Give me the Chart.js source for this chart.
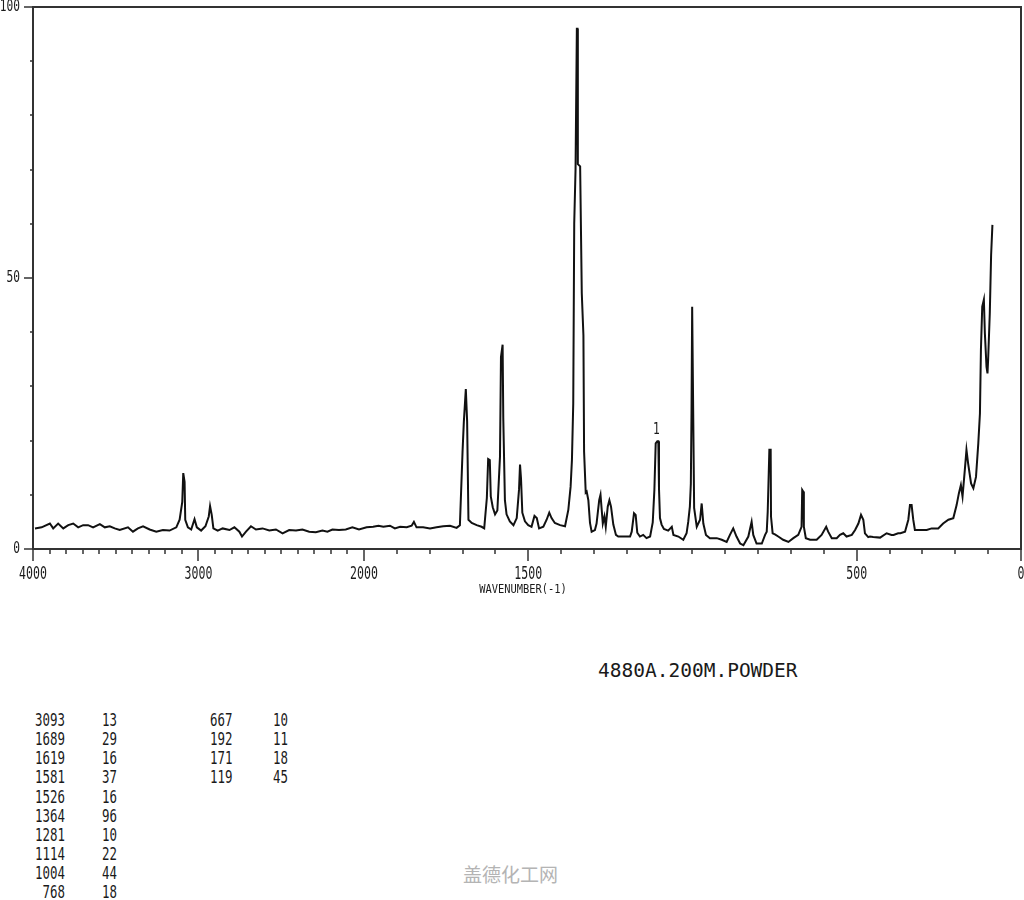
<!DOCTYPE html>
<html>
<head>
<meta charset="utf-8">
<script src="https://cdn.jsdelivr.net/npm/chart.js@4/dist/chart.umd.min.js"></script>
<style>
  html, body { margin: 0; padding: 0; background: #fff; overflow: hidden; }
  #wrap { position: relative; width: 1024px; height: 900px; }
  #spec { position: absolute; left: 0; top: 0; }
  .txt { position: absolute; font-family: "DejaVu Sans Mono", monospace; color: #1a1a1a; white-space: pre; line-height: 1; }
  #mark { position: absolute; font-family: "Noto Sans CJK SC", sans-serif; color: #b4b4b4; font-size: 19px; line-height: 1; }
</style>
</head>
<body>
<div id="wrap">
  <canvas id="spec" width="1024" height="600"></canvas>
</div>
<script>
// raman spectrum (wavenumber / relative intensity)
var wavenumbers = [
  3988, 3948, 3898, 3878, 3848, 3817, 3787, 3757, 3727, 3697, 3667, 3637, 3596, 3566, 3536, 3506,
  3476, 3426, 3396, 3366, 3335, 3295, 3255, 3215, 3175, 3134, 3114, 3098, 3092, 3084, 3080, 3064,
  3044, 3024, 3010, 2984, 2958, 2938, 2930, 2920, 2910, 2884, 2854, 2813, 2783, 2753, 2737, 2713,
  2683, 2653, 2613, 2572, 2532, 2492, 2452, 2411, 2372, 2331, 2291, 2251, 2221, 2191, 2151, 2110,
  2070, 2030, 1992, 1972, 1956, 1941, 1921, 1906, 1890, 1870, 1855, 1848, 1840, 1820, 1799, 1779,
  1759, 1738, 1718, 1708, 1700, 1696, 1690, 1686, 1682, 1672, 1657, 1642, 1634, 1626, 1622, 1617,
  1614, 1608, 1601, 1594, 1586, 1583, 1578, 1576, 1571, 1566, 1556, 1545, 1535, 1528, 1525, 1522,
  1518, 1510, 1500, 1490, 1481, 1474, 1467, 1454, 1444, 1436, 1429, 1419, 1403, 1388, 1378, 1371,
  1367, 1363, 1360, 1356, 1352, 1350, 1349, 1342, 1337, 1332, 1330, 1325, 1322, 1317, 1312, 1307,
  1297, 1292, 1284, 1280, 1273, 1268, 1264, 1258, 1253, 1248, 1241, 1233, 1226, 1210, 1190, 1185,
  1178, 1173, 1168, 1160, 1150, 1140, 1129, 1121, 1116, 1112, 1107, 1104, 1102, 1099, 1094, 1087,
  1074, 1063, 1058, 1043, 1028, 1018, 1013, 1008, 1005, 1003, 1001, 999, 997, 995, 987, 977,
  972, 967, 959, 947, 926, 911, 896, 886, 876, 866, 855, 845, 830, 820, 815, 805,
  789, 779, 774, 771, 766, 762, 761, 756, 749, 739, 724, 708, 693, 678, 668, 666,
  663, 661, 655, 642, 622, 607, 593, 587, 576, 561, 551, 541, 531, 515, 505, 495,
  487, 480, 475, 465, 460, 450, 429, 409, 394, 388, 374, 367, 353, 343, 338, 333,
  328, 323, 308, 287, 272, 252, 237, 221, 206, 196, 189, 183, 178, 171, 166, 161,
  152, 145, 137, 130, 125, 122, 118, 113, 110, 105, 102, 100, 95, 91, 87
];
var intensity = [
  3.8, 4.0, 4.7, 3.8, 4.7, 3.8, 4.4, 4.7, 4.0, 4.4, 4.4, 4.0, 4.6, 4.0, 4.2, 3.8,
  3.5, 4.0, 3.2, 3.8, 4.2, 3.6, 3.2, 3.5, 3.4, 4.0, 5.4, 8.7, 14.0, 12.4, 5.4, 4.0,
  3.6, 5.5, 4.0, 3.4, 4.2, 6.0, 7.9, 6.3, 3.8, 3.4, 3.8, 3.5, 4.0, 3.2, 2.3, 3.2,
  4.2, 3.6, 3.8, 3.4, 3.6, 2.9, 3.5, 3.4, 3.6, 3.2, 3.1, 3.4, 3.2, 3.6, 3.5, 3.6,
  4.0, 3.6, 4.0, 4.1, 4.3, 4.1, 4.3, 3.8, 4.1, 4.0, 4.3, 5.0, 4.0, 4.0, 3.8, 4.0,
  4.2, 4.3, 3.9, 4.4, 17.9, 23.5, 29.5, 23.5, 5.4, 4.8, 4.4, 4.1, 3.8, 9.4, 16.6, 16.4,
  9.7, 7.7, 6.4, 7.1, 17.0, 35.4, 37.7, 24.2, 9.0, 6.4, 5.1, 4.4, 5.7, 11.0, 15.6, 13.0,
  6.7, 5.1, 4.4, 4.1, 6.1, 5.7, 3.8, 4.1, 5.4, 6.7, 5.7, 4.8, 4.4, 4.2, 7.2, 11.5,
  16.4, 26.8, 60.0, 70.0, 96.0, 96.0, 71.0, 70.6, 47.2, 39.4, 18.0, 10.4, 10.6, 9.0, 4.8, 3.2,
  3.5, 4.7, 9.0, 10.0, 4.7, 6.0, 4.1, 7.8, 9.0, 7.8, 4.5, 2.6, 2.3, 2.3, 2.3, 3.2,
  6.6, 6.3, 3.0, 2.3, 2.6, 2.0, 2.3, 4.9, 10.9, 19.5, 19.9, 19.9, 11.2, 5.7, 4.5, 3.7,
  3.4, 4.1, 2.6, 2.3, 1.7, 2.9, 5.0, 7.8, 12.1, 25.0, 44.7, 44.7, 20.0, 7.6, 4.1, 5.4,
  8.4, 4.7, 2.6, 2.0, 2.0, 1.7, 1.3, 2.6, 3.8, 2.3, 1.0, 0.7, 2.3, 5.0, 2.6, 1.0,
  1.0, 2.6, 3.2, 6.9, 18.3, 18.3, 6.0, 2.9, 2.7, 2.3, 1.7, 1.3, 2.0, 2.6, 4.1, 10.9,
  10.6, 4.1, 2.0, 1.7, 1.7, 2.6, 4.1, 3.2, 2.0, 2.0, 2.6, 2.9, 2.3, 2.6, 3.5, 4.7,
  6.3, 5.4, 2.9, 2.2, 2.3, 2.2, 2.1, 2.9, 2.6, 2.6, 2.9, 2.9, 3.2, 5.4, 8.1, 8.1,
  5.4, 3.5, 3.5, 3.5, 3.8, 3.8, 4.7, 5.4, 5.7, 8.1, 10.3, 11.8, 9.7, 14.6, 18.3, 15.8,
  12.1, 11.2, 13.3, 19.5, 25.0, 36.7, 44.7, 46.0, 39.8, 33.6, 32.4, 35.0, 43.5, 54.2, 59.8
];

var xLabelTicks = [4000, 3000, 2000, 1500, 500, 0];
var yLabelTicks = [0, 50, 100];
var xTitle = 'WAVENUMBER(-1)';

// peak list printed under the plot
var peakWn = [3093, 1689, 1619, 1581, 1526, 1364, 1281, 1114, 1004, 768, 667, 192, 171, 119];
var peakInt = [13, 29, 16, 37, 16, 96, 10, 22, 44, 18, 10, 11, 18, 45];
var sampleName = '4880A.200M.POWDER';
var siteMark = '盖德化工网';

// small "1" drawn over the 1114 band
var markedWn = 1110;
var markedLevel = 22;

// the old plotter squeezes 4000-2000 into a third of the width
var split = 0.335;

class WaveScale extends Chart.LinearScale {
    getPixelForValue(v) {
        var f;
        if (v >= 2000) {
            f = (4000 - v) / 2000 * split;
        } else {
            f = split + (2000 - v) / 2000 * (1 - split);
        }
        return this.left + f * this.width;
    }
    getValueForPixel(p) {
        var f = (p - this.left) / this.width;
        if (f <= split) return 4000 - f / split * 2000;
        return 2000 - (f - split) / (1 - split) * 2000;
    }
}
WaveScale.id = 'wave';
WaveScale.defaults = {};
Chart.register(WaveScale);

function condensed(ctx, s, x, y, size, sx, align) {
    ctx.save();
    ctx.translate(x, y);
    ctx.scale(sx, 1);
    ctx.font = size + 'px "DejaVu Sans Mono"';
    ctx.textAlign = align;
    ctx.textBaseline = 'middle';
    ctx.fillStyle = '#1a1a1a';
    ctx.fillText(s, 0, 0);
    ctx.restore();
}

var frame = {
    id: 'frame',
    afterDraw: function (chart) {
        var ctx = chart.ctx;
        var a = chart.chartArea;
        var xs = chart.scales.x;
        var ys = chart.scales.y;
        ctx.save();
        ctx.strokeStyle = '#333';
        ctx.lineWidth = 2;
        ctx.strokeRect(a.left, a.top, a.right - a.left, a.bottom - a.top);

        ctx.lineWidth = 1.5;
        ctx.beginPath();
        xs.ticks.forEach(function (t) {
            var px = Math.round(xs.getPixelForValue(t.value));
            var len = xLabelTicks.indexOf(t.value) >= 0 ? 12 : 5;
            ctx.moveTo(px, a.bottom);
            ctx.lineTo(px, a.bottom + len);
        });
        ys.ticks.forEach(function (t) {
            var py = Math.round(ys.getPixelForValue(t.value));
            var len = yLabelTicks.indexOf(t.value) >= 0 ? 9 : 3;
            ctx.moveTo(a.left - len, py);
            ctx.lineTo(a.left, py);
        });
        ctx.stroke();
        ctx.restore();

        xLabelTicks.forEach(function (v) {
            condensed(ctx, String(v), xs.getPixelForValue(v), a.bottom + 26, 17, 0.68, 'center');
        });
        yLabelTicks.forEach(function (v) {
            condensed(ctx, String(v), 20, ys.getPixelForValue(v), 16, 0.7, 'right');
        });
        condensed(ctx, xTitle, (a.left + a.right) / 2 - 4, a.bottom + 41, 13, 0.8, 'center');
        condensed(ctx, '1', xs.getPixelForValue(markedWn), ys.getPixelForValue(markedLevel), 16, 0.7, 'center');
    }
};

var points = [];
for (var i = 0; i < wavenumbers.length; i++) {
    points.push({ x: wavenumbers[i], y: intensity[i] });
}

var ctx = document.getElementById('spec').getContext('2d');
var spectrum = new Chart(ctx, {
    type: 'line',
    data: {
        datasets: [{
            data: points,
            borderColor: '#111',
            borderWidth: 2,
            pointRadius: 0,
            tension: 0,
            fill: false
        }]
    },
    options: {
        responsive: false,
        animation: false,
        devicePixelRatio: 1,
        layout: { padding: { top: 7, right: 3, left: 0, bottom: 0 } },
        plugins: { legend: { display: false }, tooltip: { enabled: false } },
        scales: {
            x: {
                type: 'wave', min: 0, max: 4000,
                ticks: { display: false, stepSize: 100 },
                grid: { display: false }, border: { display: false },
                afterFit: function (s) { s.height = 51; }
            },
            y: {
                type: 'linear', min: 0, max: 100,
                ticks: { display: false, stepSize: 10 },
                grid: { display: false }, border: { display: false },
                afterFit: function (s) { s.width = 33; }
            }
        }
    },
    plugins: [frame]
});

// text below the plot
var wrap = document.getElementById('wrap');
function place(text, x, y, size, sx, align) {
    var d = document.createElement('div');
    d.className = 'txt';
    d.textContent = text;
    d.style.fontSize = size + 'px';
    d.style.top = (y - size * 0.55) + 'px';
    if (align === 'right') {
        d.style.left = (x - 200) + 'px';
        d.style.width = '200px';
        d.style.textAlign = 'right';
        d.style.transformOrigin = '200px 50%';
    } else {
        d.style.left = x + 'px';
        d.style.transformOrigin = '0 50%';
    }
    d.style.transform = 'scaleX(' + sx + ')';
    wrap.appendChild(d);
}

place(sampleName, 598, 671, 20, 0.975, 'left');

var rowY0 = 721, rowStep = 19.1;
for (var j = 0; j < peakWn.length; j++) {
    var row = j < 10 ? j : j - 10;
    var y = rowY0 + row * rowStep;
    if (j < 10) {
        place(String(peakWn[j]), 65, y, 18, 0.69, 'right');
        place(String(peakInt[j]), 102, y, 18, 0.69, 'left');
    } else {
        place(String(peakWn[j]), 210, y, 18, 0.69, 'left');
        place(String(peakInt[j]), 273, y, 18, 0.69, 'left');
    }
}

var m = document.createElement('div');
m.id = 'mark';
m.textContent = siteMark;
m.style.left = '463px';
m.style.top = '864px';
wrap.appendChild(m);
</script>
</body>
</html>
